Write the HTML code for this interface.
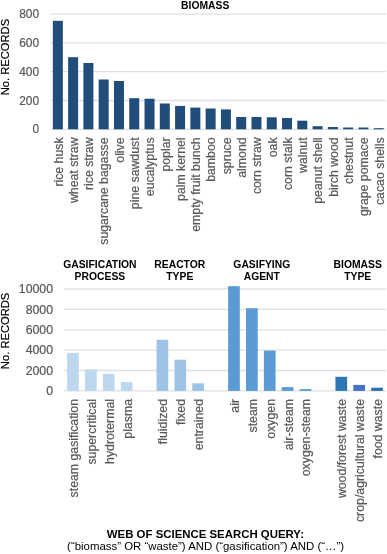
<!DOCTYPE html>
<html lang="en"><head><meta charset="utf-8"><title>Biomass gasification records</title>
<style>html,body{margin:0;padding:0;background:#fff}svg{display:block}</style></head>
<body>
<svg width="387" height="554" viewBox="0 0 387 554" font-family='"Liberation Sans", Arial, Helvetica, sans-serif'>
<rect width="387" height="554" fill="#fff"/>
<line x1="50.2" x2="386" y1="14.1" y2="14.1" stroke="#e0e0e0" stroke-width="1.3"/>
<text x="39" y="18.1" text-anchor="end" font-size="11.9" fill="#595959" stroke="#595959" stroke-width="0.22">800</text>
<line x1="50.2" x2="386" y1="42.9" y2="42.9" stroke="#e0e0e0" stroke-width="1.3"/>
<text x="39" y="46.9" text-anchor="end" font-size="11.9" fill="#595959" stroke="#595959" stroke-width="0.22">600</text>
<line x1="50.2" x2="386" y1="71.7" y2="71.7" stroke="#e0e0e0" stroke-width="1.3"/>
<text x="39" y="75.7" text-anchor="end" font-size="11.9" fill="#595959" stroke="#595959" stroke-width="0.22">400</text>
<line x1="50.2" x2="386" y1="100.5" y2="100.5" stroke="#e0e0e0" stroke-width="1.3"/>
<text x="39" y="104.5" text-anchor="end" font-size="11.9" fill="#595959" stroke="#595959" stroke-width="0.22">200</text>
<line x1="50.2" x2="386" y1="129.4" y2="129.4" stroke="#e0e0e0" stroke-width="1.3"/>
<text x="39" y="133.4" text-anchor="end" font-size="11.9" fill="#595959" stroke="#595959" stroke-width="0.22">0</text>
<rect x="52.84" y="20.8" width="10.0" height="108.50" fill="#204d7a"/>
<text transform="translate(62.64,137.4) rotate(-90)" text-anchor="end" font-size="12.3" fill="#595959" stroke="#595959" stroke-width="0.22">rice husk</text>
<rect x="68.12" y="57.2" width="10.0" height="72.10" fill="#204d7a"/>
<text transform="translate(77.92,137.4) rotate(-90)" text-anchor="end" font-size="12.3" fill="#595959" stroke="#595959" stroke-width="0.22">wheat straw</text>
<rect x="83.40" y="63.0" width="10.0" height="66.30" fill="#204d7a"/>
<text transform="translate(93.20,137.4) rotate(-90)" text-anchor="end" font-size="12.3" fill="#595959" stroke="#595959" stroke-width="0.22">rice straw</text>
<rect x="98.68" y="79.5" width="10.0" height="49.80" fill="#204d7a"/>
<text transform="translate(108.48,137.4) rotate(-90)" text-anchor="end" font-size="12.3" fill="#595959" stroke="#595959" stroke-width="0.22">sugarcane bagasse</text>
<rect x="113.96" y="81.0" width="10.0" height="48.30" fill="#204d7a"/>
<text transform="translate(123.76,137.4) rotate(-90)" text-anchor="end" font-size="12.3" fill="#595959" stroke="#595959" stroke-width="0.22">olive</text>
<rect x="129.24" y="98.2" width="10.0" height="31.10" fill="#204d7a"/>
<text transform="translate(139.04,137.4) rotate(-90)" text-anchor="end" font-size="12.3" fill="#595959" stroke="#595959" stroke-width="0.22">pine sawdust</text>
<rect x="144.52" y="98.7" width="10.0" height="30.60" fill="#204d7a"/>
<text transform="translate(154.32,137.4) rotate(-90)" text-anchor="end" font-size="12.3" fill="#595959" stroke="#595959" stroke-width="0.22">eucalyptus</text>
<rect x="159.80" y="103.5" width="10.0" height="25.80" fill="#204d7a"/>
<text transform="translate(169.60,137.4) rotate(-90)" text-anchor="end" font-size="12.3" fill="#595959" stroke="#595959" stroke-width="0.22">poplar</text>
<rect x="175.08" y="105.9" width="10.0" height="23.40" fill="#204d7a"/>
<text transform="translate(184.88,137.4) rotate(-90)" text-anchor="end" font-size="12.3" fill="#595959" stroke="#595959" stroke-width="0.22">palm kernel</text>
<rect x="190.36" y="107.6" width="10.0" height="21.70" fill="#204d7a"/>
<text transform="translate(200.16,137.4) rotate(-90)" text-anchor="end" font-size="12.3" fill="#595959" stroke="#595959" stroke-width="0.22">empty fruit bunch</text>
<rect x="205.64" y="108.5" width="10.0" height="20.80" fill="#204d7a"/>
<text transform="translate(215.44,137.4) rotate(-90)" text-anchor="end" font-size="12.3" fill="#595959" stroke="#595959" stroke-width="0.22">bamboo</text>
<rect x="220.92" y="109.4" width="10.0" height="19.90" fill="#204d7a"/>
<text transform="translate(230.72,137.4) rotate(-90)" text-anchor="end" font-size="12.3" fill="#595959" stroke="#595959" stroke-width="0.22">spruce</text>
<rect x="236.20" y="117.0" width="10.0" height="12.30" fill="#204d7a"/>
<text transform="translate(246.00,137.4) rotate(-90)" text-anchor="end" font-size="12.3" fill="#595959" stroke="#595959" stroke-width="0.22">almond</text>
<rect x="251.48" y="117.0" width="10.0" height="12.30" fill="#204d7a"/>
<text transform="translate(261.28,137.4) rotate(-90)" text-anchor="end" font-size="12.3" fill="#595959" stroke="#595959" stroke-width="0.22">corn straw</text>
<rect x="266.76" y="117.3" width="10.0" height="12.00" fill="#204d7a"/>
<text transform="translate(276.56,137.4) rotate(-90)" text-anchor="end" font-size="12.3" fill="#595959" stroke="#595959" stroke-width="0.22">oak</text>
<rect x="282.04" y="118.0" width="10.0" height="11.30" fill="#204d7a"/>
<text transform="translate(291.84,137.4) rotate(-90)" text-anchor="end" font-size="12.3" fill="#595959" stroke="#595959" stroke-width="0.22">corn stalk</text>
<rect x="297.32" y="120.7" width="10.0" height="8.60" fill="#204d7a"/>
<text transform="translate(307.12,137.4) rotate(-90)" text-anchor="end" font-size="12.3" fill="#595959" stroke="#595959" stroke-width="0.22">walnut</text>
<rect x="312.60" y="126.2" width="10.0" height="3.10" fill="#204d7a"/>
<text transform="translate(322.40,137.4) rotate(-90)" text-anchor="end" font-size="12.3" fill="#595959" stroke="#595959" stroke-width="0.22">peanut shell</text>
<rect x="327.88" y="127.0" width="10.0" height="2.30" fill="#204d7a"/>
<text transform="translate(337.68,137.4) rotate(-90)" text-anchor="end" font-size="12.3" fill="#595959" stroke="#595959" stroke-width="0.22">birch wood</text>
<rect x="343.16" y="127.5" width="10.0" height="1.80" fill="#204d7a"/>
<text transform="translate(352.96,137.4) rotate(-90)" text-anchor="end" font-size="12.3" fill="#595959" stroke="#595959" stroke-width="0.22">chestnut</text>
<rect x="358.44" y="127.5" width="10.0" height="1.80" fill="#204d7a"/>
<text transform="translate(368.24,137.4) rotate(-90)" text-anchor="end" font-size="12.3" fill="#595959" stroke="#595959" stroke-width="0.22">grape pomace</text>
<rect x="373.72" y="128.2" width="10.0" height="1.10" fill="#204d7a"/>
<text transform="translate(383.52,137.4) rotate(-90)" text-anchor="end" font-size="12.3" fill="#595959" stroke="#595959" stroke-width="0.22">cacao shells</text>
<text transform="translate(8.8,57.1) rotate(-90)" text-anchor="middle" font-size="11.2" fill="#000" stroke="#000" stroke-width="0.2">No. RECORDS</text>
<text x="205.2" y="8.8" text-anchor="middle" font-size="10.35" font-weight="bold" fill="#000">BIOMASS</text>
<line x1="64.0" x2="386" y1="289.0" y2="289.0" stroke="#e0e0e0" stroke-width="1.3"/>
<text x="53" y="293.2" text-anchor="end" font-size="12.3" fill="#595959" stroke="#595959" stroke-width="0.22">10000</text>
<line x1="64.0" x2="386" y1="309.4" y2="309.4" stroke="#e0e0e0" stroke-width="1.3"/>
<text x="53" y="313.6" text-anchor="end" font-size="12.3" fill="#595959" stroke="#595959" stroke-width="0.22">8000</text>
<line x1="64.0" x2="386" y1="329.8" y2="329.8" stroke="#e0e0e0" stroke-width="1.3"/>
<text x="53" y="334.0" text-anchor="end" font-size="12.3" fill="#595959" stroke="#595959" stroke-width="0.22">6000</text>
<line x1="64.0" x2="386" y1="350.1" y2="350.1" stroke="#e0e0e0" stroke-width="1.3"/>
<text x="53" y="354.3" text-anchor="end" font-size="12.3" fill="#595959" stroke="#595959" stroke-width="0.22">4000</text>
<line x1="64.0" x2="386" y1="370.5" y2="370.5" stroke="#e0e0e0" stroke-width="1.3"/>
<text x="53" y="374.7" text-anchor="end" font-size="12.3" fill="#595959" stroke="#595959" stroke-width="0.22">2000</text>
<line x1="64.0" x2="386" y1="390.9" y2="390.9" stroke="#e0e0e0" stroke-width="1.3"/>
<text x="53" y="395.1" text-anchor="end" font-size="12.3" fill="#595959" stroke="#595959" stroke-width="0.22">0</text>
<rect x="67.09" y="352.9" width="11.7" height="38.00" fill="#bdd7ee"/>
<text transform="translate(77.84,399.0) rotate(-90)" text-anchor="end" font-size="12.3" fill="#595959" stroke="#595959" stroke-width="0.22">steam gasification</text>
<rect x="84.99" y="369.4" width="11.7" height="21.50" fill="#bdd7ee"/>
<text transform="translate(95.74,399.0) rotate(-90)" text-anchor="end" font-size="12.3" fill="#595959" stroke="#595959" stroke-width="0.22">supercritical</text>
<rect x="102.88" y="373.8" width="11.7" height="17.10" fill="#bdd7ee"/>
<text transform="translate(113.62,399.0) rotate(-90)" text-anchor="end" font-size="12.3" fill="#595959" stroke="#595959" stroke-width="0.22">hydrotermal</text>
<rect x="120.77" y="382.1" width="11.7" height="8.80" fill="#bdd7ee"/>
<text transform="translate(131.52,399.0) rotate(-90)" text-anchor="end" font-size="12.3" fill="#595959" stroke="#595959" stroke-width="0.22">plasma</text>
<rect x="156.55" y="339.8" width="11.7" height="51.10" fill="#9dc3e6"/>
<text transform="translate(167.30,399.0) rotate(-90)" text-anchor="end" font-size="12.3" fill="#595959" stroke="#595959" stroke-width="0.22">fluidized</text>
<rect x="174.44" y="359.7" width="11.7" height="31.20" fill="#9dc3e6"/>
<text transform="translate(185.19,399.0) rotate(-90)" text-anchor="end" font-size="12.3" fill="#595959" stroke="#595959" stroke-width="0.22">fixed</text>
<rect x="192.33" y="383.3" width="11.7" height="7.60" fill="#9dc3e6"/>
<text transform="translate(203.08,399.0) rotate(-90)" text-anchor="end" font-size="12.3" fill="#595959" stroke="#595959" stroke-width="0.22">entrained</text>
<rect x="228.11" y="286.2" width="11.7" height="104.70" fill="#5b9bd5"/>
<text transform="translate(238.86,399.0) rotate(-90)" text-anchor="end" font-size="12.3" fill="#595959" stroke="#595959" stroke-width="0.22">air</text>
<rect x="246.00" y="308.2" width="11.7" height="82.70" fill="#5b9bd5"/>
<text transform="translate(256.75,399.0) rotate(-90)" text-anchor="end" font-size="12.3" fill="#595959" stroke="#595959" stroke-width="0.22">steam</text>
<rect x="263.88" y="350.6" width="11.7" height="40.30" fill="#5b9bd5"/>
<text transform="translate(274.63,399.0) rotate(-90)" text-anchor="end" font-size="12.3" fill="#595959" stroke="#595959" stroke-width="0.22">oxygen</text>
<rect x="281.77" y="387.1" width="11.7" height="3.80" fill="#5b9bd5"/>
<text transform="translate(292.52,399.0) rotate(-90)" text-anchor="end" font-size="12.3" fill="#595959" stroke="#595959" stroke-width="0.22">air-steam</text>
<rect x="299.66" y="389.1" width="11.7" height="1.80" fill="#5b9bd5"/>
<text transform="translate(310.41,399.0) rotate(-90)" text-anchor="end" font-size="12.3" fill="#595959" stroke="#595959" stroke-width="0.22">oxygen-steam</text>
<rect x="335.44" y="376.8" width="11.7" height="14.10" fill="#2e75b6"/>
<text transform="translate(346.19,399.0) rotate(-90)" text-anchor="end" font-size="12.3" fill="#595959" stroke="#595959" stroke-width="0.22">wood/forest waste</text>
<rect x="353.33" y="384.9" width="11.7" height="6.00" fill="#4472c4"/>
<text transform="translate(364.08,399.0) rotate(-90)" text-anchor="end" font-size="12.3" fill="#595959" stroke="#595959" stroke-width="0.22">crop/agricultural waste</text>
<rect x="371.22" y="387.7" width="11.7" height="3.20" fill="#2b70b0"/>
<text transform="translate(381.97,399.0) rotate(-90)" text-anchor="end" font-size="12.3" fill="#595959" stroke="#595959" stroke-width="0.22">food waste</text>
<text transform="translate(9.3,330.9) rotate(-90)" text-anchor="middle" font-size="11.2" fill="#000" stroke="#000" stroke-width="0.2">No. RECORDS</text>
<text x="99.9" y="267.7" text-anchor="middle" font-size="10.35" font-weight="bold" fill="#000">GASIFICATION</text>
<text x="99.9" y="280.3" text-anchor="middle" font-size="10.35" font-weight="bold" fill="#000">PROCESS</text>
<text x="179.8" y="267.7" text-anchor="middle" font-size="10.35" font-weight="bold" fill="#000">REACTOR</text>
<text x="179.8" y="280.3" text-anchor="middle" font-size="10.35" font-weight="bold" fill="#000">TYPE</text>
<text x="261.8" y="267.7" text-anchor="middle" font-size="10.35" font-weight="bold" fill="#000">GASIFYING</text>
<text x="261.8" y="280.3" text-anchor="middle" font-size="10.35" font-weight="bold" fill="#000">AGENT</text>
<text x="357.7" y="267.7" text-anchor="middle" font-size="10.35" font-weight="bold" fill="#000">BIOMASS</text>
<text x="357.7" y="280.3" text-anchor="middle" font-size="10.35" font-weight="bold" fill="#000">TYPE</text>
<text x="205.4" y="537.8" text-anchor="middle" font-size="11.42" font-weight="bold" fill="#000">WEB OF SCIENCE SEARCH QUERY:</text>
<text x="205.6" y="549.9" text-anchor="middle" font-size="11.42" fill="#000">(“biomass” OR “waste”) AND (“gasification”) AND (“…”)</text>
</svg>
</body></html>
